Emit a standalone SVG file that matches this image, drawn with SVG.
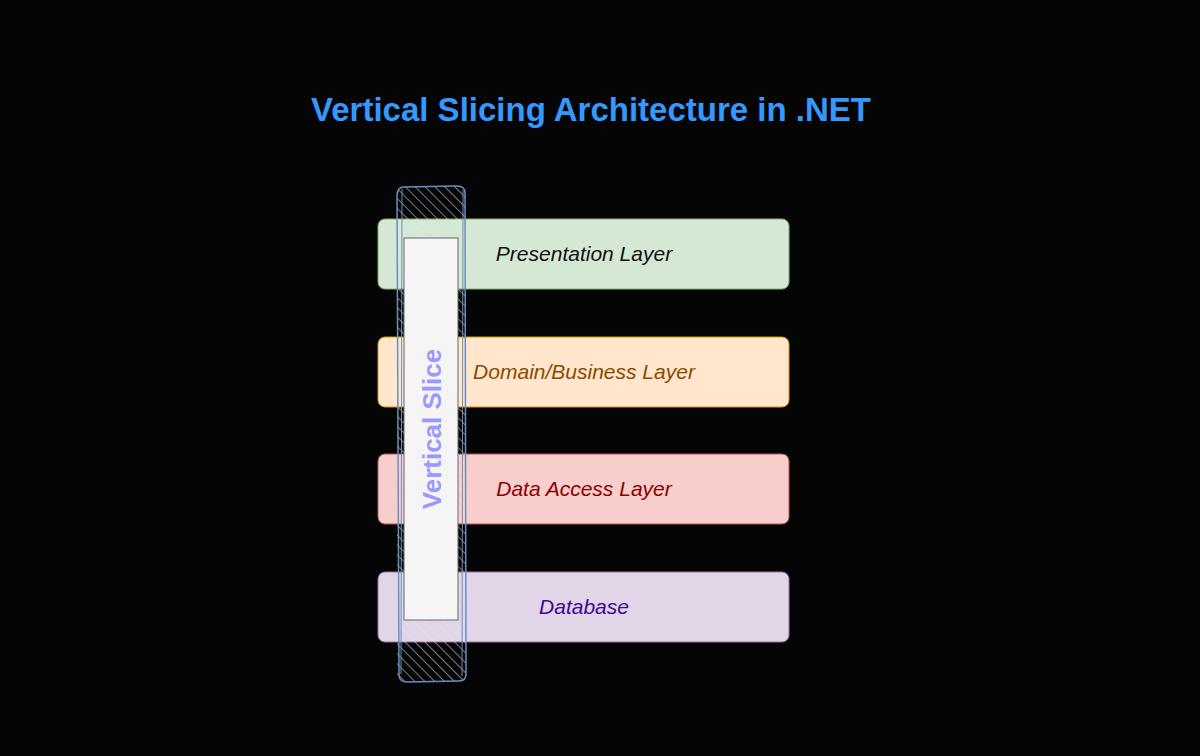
<svg xmlns="http://www.w3.org/2000/svg" width="1200" height="756" viewBox="0 0 1200 756">
<style>
.lt{font-family:"Liberation Sans",Arial,sans-serif;font-size:21px;font-style:italic;text-anchor:middle}
</style>
<defs>
<pattern id="h" width="7" height="7" patternUnits="userSpaceOnUse" patternTransform="rotate(-45)">
<line x1="0" y1="0" x2="0" y2="7" stroke="#dde6f5" stroke-opacity="0.75" stroke-width="1.4"/>
</pattern>
</defs>
<rect width="1200" height="756" fill="#050505"/>
<text x="591" y="121" font-family="'Liberation Sans',Arial,sans-serif" font-size="33" font-weight="bold" fill="#3399ff" text-anchor="middle">Vertical Slicing Architecture in .NET</text>
<g id="presentation"><rect x="378" y="219" width="411" height="70" rx="7" fill="#d5e8d4" stroke="#82b366"/><text class="lt" x="584" y="261" fill="#111">Presentation Layer</text></g>
<g id="domain"><rect x="378" y="337" width="411" height="70" rx="7" fill="#ffe6cc" stroke="#d79b00"/><text class="lt" x="584" y="379" fill="#8a4a00">Domain/Business Layer</text></g>
<g id="data"><rect x="378" y="454" width="411" height="70" rx="7" fill="#f8cecc" stroke="#b85450"/><text class="lt" x="584" y="496" fill="#8b0000">Data Access Layer</text></g>
<g id="database"><rect x="378" y="572" width="411" height="70" rx="7" fill="#e1d5e7" stroke="#9673a6"/><text class="lt" x="584" y="614" fill="#3d0a91">Database</text></g>
<g id="slice">
<rect x="397" y="186" width="69" height="496" rx="7" fill="url(#h)"/>
<path d="M404 187 Q397 187 397 196 L399 676 Q400 682 407 682 L459 681 Q466 681 466 674 L465 193 Q465 186 457 186 Z" fill="none" stroke="#6c8ebf" stroke-width="1.5"/>
<path d="M402 189 L401 674 M463 190 L462 676" fill="none" stroke="#6c8ebf" stroke-width="1"/>
<rect x="404" y="238" width="54" height="382" fill="#f5f5f5" stroke="#666"/>
<text transform="translate(441,429) rotate(-90)" font-family="'Liberation Sans',Arial,sans-serif" font-size="26" font-weight="bold" fill="#9999ff" text-anchor="middle">Vertical Slice</text>
</g>
<g id="connectors"/>
</svg>
